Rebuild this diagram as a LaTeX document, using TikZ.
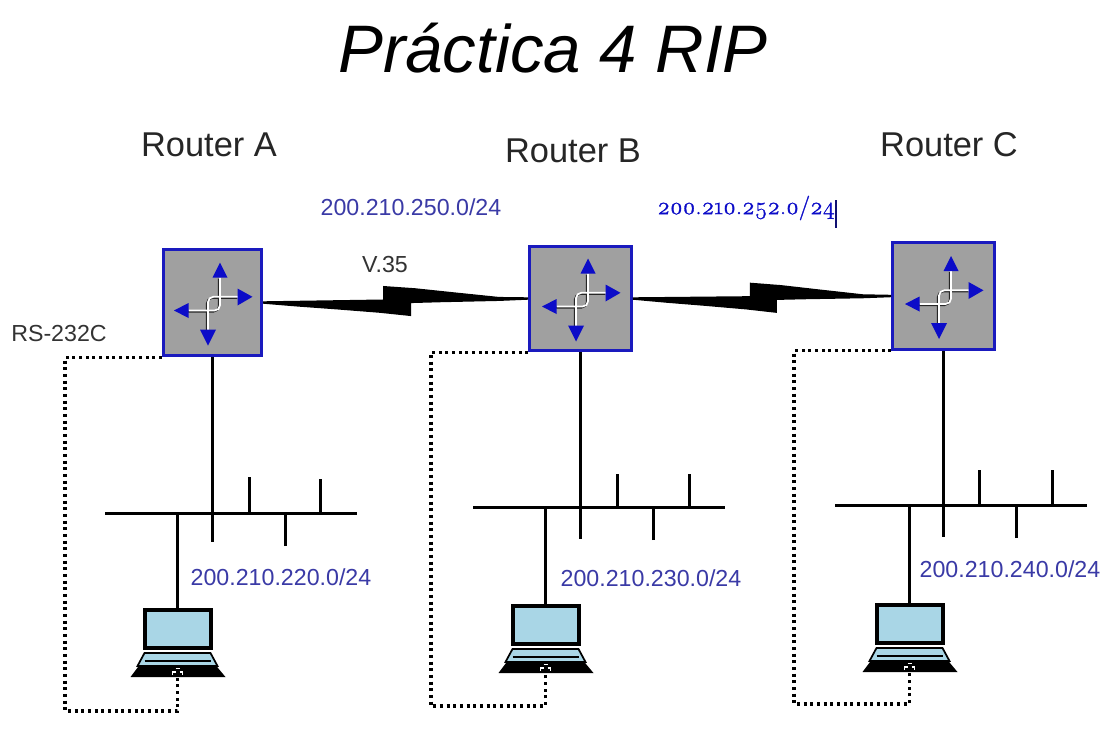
\documentclass[tikz,border=0pt]{standalone}
\usepackage{fontspec}
\setmainfont{Liberation Sans}
\usetikzlibrary{calc}
\newfontfamily\oldserif[Numbers=OldStyle,RawFeature={embolden=1.2}]{Latin Modern Roman}
\definecolor{rblue}{HTML}{1A1ABE}
\definecolor{rgray}{HTML}{A0A0A0}
\definecolor{ablue}{HTML}{0C0CC8}
\definecolor{iplabel}{HTML}{3A3AA6}
\definecolor{scr}{HTML}{A9D6E6}
\tikzset{
  x=0.75pt,y=-0.75pt,
  router/.style={draw=rblue,fill=rgray,line width=2.4pt,inner sep=0pt},
  wire/.style={line width=2.25pt,black},
  serial/.style={line width=2.3pt,black,dash pattern=on 2.3pt off 2.7pt},
  bolt/.style={fill=black,draw=none},
  title/.style={font=\fontsize{50.4}{60}\selectfont\itshape,text=black},
  rname/.style={font=\fontsize{25.8}{30}\selectfont,text=black!85},
  ip/.style={font=\fontsize{17.4}{21}\selectfont,text=iplabel},
  small/.style={font=\fontsize{17.4}{21}\selectfont,text=black!80},
  lid/.style={draw=black,fill=scr,line width=3pt,minimum width=49.5pt,minimum height=28pt,inner sep=0pt},
  pics/icon/.style={code={
    \begin{scope}[xshift=-0.9pt,yshift=-0.9pt]
    \draw[line width=1.3pt,black!85,rounded corners=4pt] (-24,8) -- (7.5,8) -- (7.5,-25);
    \draw[line width=1.3pt,black!85,rounded corners=4pt] (-4.5,28) -- (-4.5,-5.7) -- (26,-5.7);
    \end{scope}
    \draw[line width=1.3pt,white,rounded corners=4pt] (-24,8) -- (7.5,8) -- (7.5,-25);
    \draw[line width=1.3pt,white,rounded corners=4pt] (-4.5,28) -- (-4.5,-5.7) -- (26,-5.7);
    \fill[ablue] (7.5,-40) -- (15,-25) -- (0,-25) -- cycle;
    \fill[ablue] (-4.5,43) -- (-12.5,27) -- (3.5,27) -- cycle;
    \fill[ablue] (40,-5.7) -- (25,-14) -- (25,3) -- cycle;
    \fill[ablue] (-38.5,8) -- (-24,0.5) -- (-24,15.5) -- cycle;
  }},
  pics/laptop/.style={code={
    \node[lid] (-lid) at (0,21) {};
    \fill[scr,draw=black,line width=1.3pt] (-33,45) -- (33,45) -- (40,58) -- (-40,58) -- cycle;
    \draw[line width=2pt,black] (-33,53) -- (33,53);
    \fill[black] (-47,69) -- (48,69) -- (38,57) -- (-38,57) -- cycle;
    \draw[white,line width=.8pt] (-5,67) -- (-5,64) -- (-2,64) (2,64) -- (5,64) -- (5,67) (-2,60.5) -- (2,60.5);
    \coordinate (-port) at (0,69);
  }},
}
\newcommand{\boltshape}[2]{%
  \fill[bolt] ($(#1)+(0,-1.2)$) -- ($(#1)!.228!(#2)+(0,-1.2)$) -- ($(#1)!.453!(#2)+(0,-1.2)$)
    -- ($(#1)!.453!(#2)+(0,-14.7)$) -- ($(#1)!.573!(#2)+(0,-12)$)
    -- ($(#1)!.73!(#2)+(0,-7)$) -- ($(#1)!.89!(#2)+(0,-2)$) -- ($(#2)+(0,-1.2)$) -- ($(#2)+(0,1.2)$)
    -- ($(#1)!.89!(#2)+(0,2)$) -- ($(#1)!.674!(#2)+(0,2.4)$)
    -- ($(#1)!.558!(#2)+(0,2.8)$) -- ($(#1)!.558!(#2)+(0,15.8)$)
    -- ($(#1)!.438!(#2)+(0,12)$) -- ($(#1)!.277!(#2)+(0,8)$)
    -- ($(#1)!.127!(#2)+(0,4.5)$) -- ($(#1)+(0,1.2)$) -- cycle;}
\begin{document}
\begin{tikzpicture}
\useasboundingbox (0,0) rectangle (1108,751);
\fill[white] (0,0) rectangle (1108,751);

\node[title] (ttl) at (553,48) {Práctica 4 RIP};
\node[rname] (na) at (209,145) {Router A};
\node[rname] (nb) at (573,151) {Router B};
\node[rname] (nc) at (949,145) {Router C};

% routers
\node[router,minimum width=73.5pt,minimum height=80pt] (ra) at (212.5,302.5) {};
\node[router,minimum width=76pt,minimum height=78pt] (rb) at (580.5,298.5) {};
\node[router,minimum width=76pt,minimum height=80pt] (rc) at (943.5,296) {};
\pic at (ra.center) {icon};
\pic at (rb.center) {icon};
\pic at (rc.center) {icon};

% serial links
\boltshape{ra.east}{rb.west}
\boltshape{rb.east}{rc.west}
\node[small] (v35) at (385,265) {V.35};
\node[small] (rs) at (59,334) {RS-232C};
\node[ip] (ipab) at (411,207) {200.210.250.0/24};
\node[font=\fontsize{18.3}{22}\selectfont\oldserif,text=ablue,inner sep=0pt] (ipbc) at (746,208) {200.210.252.0/24};
\coordinate (cur1) at (836,200);
\coordinate (cur2) at (836,228);
\draw[line width=1pt,rblue!60!black] (cur1) -- (cur2);

% laptops
\pic (la) at (177.5,608) {laptop};
\pic (lb) at (545.5,604) {laptop};
\pic (lc) at (909.5,603) {laptop};

% LAN A
\coordinate (a1) at (105,513.5); \coordinate (a2) at (357,513.5);
\coordinate (a3) at (212.5,542); \coordinate (a4) at (249.5,477); \coordinate (a5) at (320.5,479);
\coordinate (a6) at (285.5,546); \coordinate (a7) at (177.5,513.5);
\draw[wire] (a1) -- (a2);
\draw[wire] (ra.south) -- (a3);
\draw[wire] (a4) -- (a4 |- a1);
\draw[wire] (a5) -- (a5 |- a1);
\draw[wire] (a6) -- (a6 |- a1);
\draw[wire] (a7) -- (la-lid.north);
% LAN B
\coordinate (b1) at (473,507.5); \coordinate (b2) at (725,507.5);
\coordinate (b3) at (580.5,539); \coordinate (b4) at (617.5,474); \coordinate (b5) at (689.5,474);
\coordinate (b6) at (653.5,540); \coordinate (b7) at (545.5,507.5);
\draw[wire] (b1) -- (b2);
\draw[wire] (rb.south) -- (b3);
\draw[wire] (b4) -- (b4 |- b1);
\draw[wire] (b5) -- (b5 |- b1);
\draw[wire] (b6) -- (b6 |- b1);
\draw[wire] (b7) -- (lb-lid.north);
% LAN C
\coordinate (c1) at (835,505.5); \coordinate (c2) at (1087,505.5);
\coordinate (c3) at (943.5,537); \coordinate (c4) at (979.5,470); \coordinate (c5) at (1052.5,470);
\coordinate (c6) at (1016.5,538); \coordinate (c7) at (909.5,505.5);
\draw[wire] (c1) -- (c2);
\draw[wire] (rc.south) -- (c3);
\draw[wire] (c4) -- (c4 |- c1);
\draw[wire] (c5) -- (c5 |- c1);
\draw[wire] (c6) -- (c6 |- c1);
\draw[wire] (c7) -- (lc-lid.north);

\node[ip] (ipa) at (281,577) {200.210.220.0/24};
\node[ip] (ipb) at (651,578) {200.210.230.0/24};
\node[ip] (ipc) at (1010,569) {200.210.240.0/24};

% console cables
\coordinate (da) at (65,711); \coordinate (db) at (431,706); \coordinate (dc) at (794,704);
\draw[serial] (ra.south west) -- (da |- ra.south) -- (da) -- (la-port |- da) -- (la-port);
\draw[serial] (rb.south west) -- (db |- rb.south) -- (db) -- (lb-port |- db) -- (lb-port);
\draw[serial] (rc.south west) -- (dc |- rc.south) -- (dc) -- (lc-port |- dc) -- (lc-port);
\end{tikzpicture}
\end{document}
